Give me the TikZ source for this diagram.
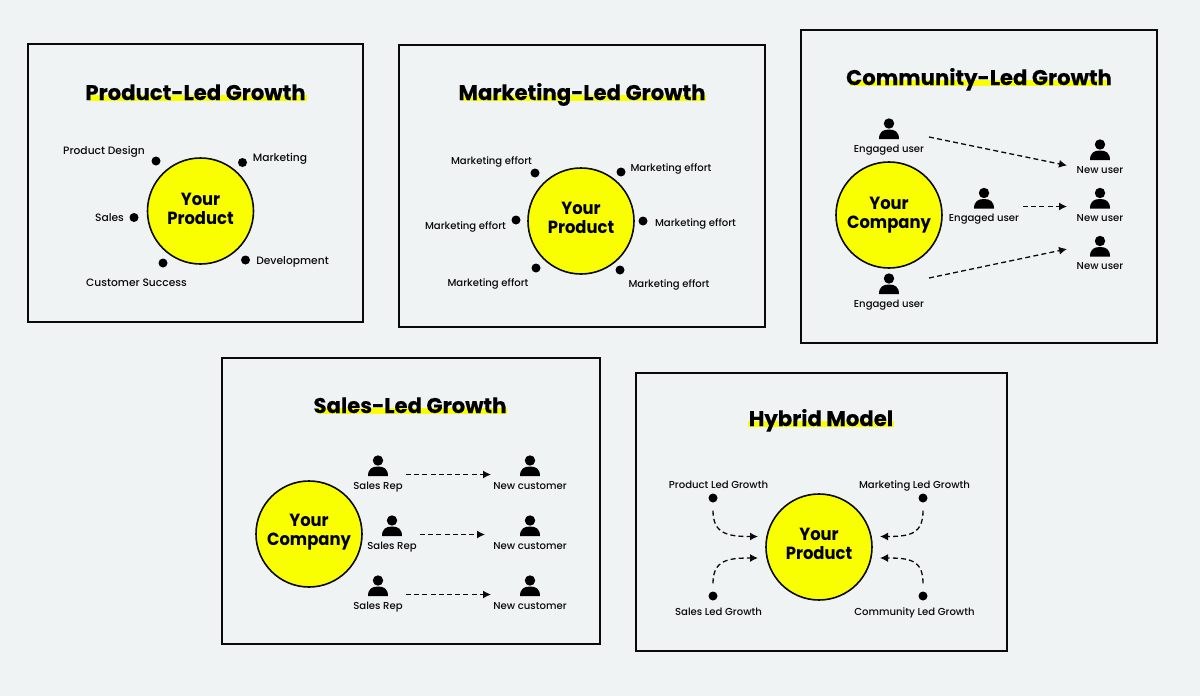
\documentclass[tikz,border=0pt]{standalone}
\usepackage{fontspec}
\setmainfont{Poppins Medium}
\newfontfamily\titlefont{Poppins}[UprightFeatures={FakeBold=0.25},BoldFeatures={FakeBold=0.25}]
\newfontfamily\hubfont{Poppins}[FakeStretch=0.93]
\usepackage{xcolor}
\usetikzlibrary{arrows.meta,positioning}
\definecolor{pagebg}{HTML}{F0F3F4}
\definecolor{hlyellow}{HTML}{F9FF00}
\definecolor{inkblack}{HTML}{0A0A0A}
\tikzset{panel/.style={draw=inkblack,line width=2.4pt,fill=pagebg},
    hlbar/.style={fill=hlyellow},
    titletext/.style={font=\titlefont\bfseries\fontsize{21.2}{24}\selectfont,text=black,inner sep=0pt,anchor=base},
    hub/.style={circle,draw=inkblack,line width=1.6pt,fill=hlyellow,minimum size=106pt,inner sep=0pt},
    hubtext/.style={inner sep=0pt,align=center,font=\hubfont\bfseries\fontsize{17.6}{18.8}\selectfont},
    dot/.style={circle,fill=black,minimum size=9pt,inner sep=0pt},
    lbl/.style={font=\fontsize{10.1}{12}\selectfont,text=inkblack,inner sep=0pt,text height=11pt,text depth=2.5pt},
    lblwide/.style={lbl,font=\fontsize{10.7}{12}\selectfont},
    usermark/.style={minimum width=20pt,minimum height=20pt,inner sep=0pt},
    flow/.style={dashed,dash pattern=on 5pt off 3.2pt,line width=1.3pt,draw=inkblack,
        -{Latex[length=8pt,width=8pt]}},
    personicon/.pic={
        \fill[black] (0,-5.5) circle (5.2);
        \fill[black] (-10,10) .. controls (-10,3) and (-6,0.5) .. (0,0.5)
            .. controls (6,0.5) and (10,3) .. (10,10) -- cycle;
    }}
\newcommand{\usernode}[4]{
    \node[usermark] (#1) at (#2,#3) {};
    \pic at (#1) {personicon};
    \node[lbl,below=2pt of #1] (#1t) {#4};
}
\newcommand{\hubnode}[5]{
    \node[hub] (#1) at (#2,#3) {};
    \node[hubtext] (#1t) at (#2,#4) {#5};
}
\begin{document}
\begin{tikzpicture}[x=1pt,y=-1pt]
    \fill[pagebg] (0,0) rectangle (1200,696);
    \foreach \xa/\ya/\xb/\yb in {28/44/363/322,399/45/765/327,801/30/1157/343,222/358/600/644,636/373/1007/651}
        \draw[panel] (\xa,\ya) rectangle (\xb,\yb);
    \foreach \xa/\xb/\yb in {90/307/100,462/706/100,850/1109/85,318/507/413,748/894/426}
        \fill[hlbar] (\xa,\yb-5.5) rectangle (\xb,\yb+1);

    % titles
    \node[titletext] (titleplg) at (195.5,100) {Product-Led Growth};
    \node[titletext] (titlemlg) at (582,100) {Marketing-Led Growth};
    \node[titletext] (titleclg) at (979,85) {Community-Led Growth};
    \node[titletext] (titleslg) at (410,413) {Sales-Led Growth};
    \node[titletext] (titlehyb) at (821,426) {Hybrid Model};

    % hubs
    \hubnode{hubplg}{200.5}{211}{208.5}{Your\\Product}
    \hubnode{hubmlg}{581}{221}{217.5}{Your\\Product}
    \hubnode{hubclg}{889}{215}{215.5}{Your\\Company}
    \hubnode{hubslg}{309}{534}{532.5}{Your\\Company}
    \hubnode{hubhyb}{819}{547}{544}{Your\\Product}

    % product led
    \foreach \n/\dx/\dy/\tx/\ty/\lab in {pd/156/161/104/150/Product Design,mk/242.5/162.5/280/157/Marketing,
        sl/134/217.5/109.5/217.5/Sales,dv/245.5/260/292.5/260/Development,cs/163/263/136.5/282/Customer Success}{
        \node[dot] (\n) at (\dx,\dy) {};
        \node[lblwide] (\n t) at (\tx,\ty) {\lab};
    }

    % marketing led
    \foreach \n/\dx/\dy/\tx/\ty in {me1/535/173/491.5/160,me2/621/172/671/167,me3/516/220/465.5/225,
        me4/643/221/695.5/222,me5/536/268/488/282,me6/620/270/669/283.5}{
        \node[dot] (\n) at (\dx,\dy) {};
        \node[lbl] (\n t) at (\tx,\ty) {Marketing effort};
    }

    % community led
    \usernode{eu1}{889}{129}{Engaged user}
    \usernode{eu2}{984}{198.5}{Engaged user}
    \usernode{eu3}{889}{284}{Engaged user}
    \usernode{nu1}{1100}{150}{New user}
    \usernode{nu2}{1100}{198.5}{New user}
    \usernode{nu3}{1100}{246.5}{New user}
    \draw[flow] ([shift={(40,8)}]eu1.center) -- ([shift={(-33,15.5)}]nu1.center);
    \draw[flow] ([shift={(39,8)}]eu2.center) -- ([shift={(-33,8)}]nu2.center);
    \draw[flow] ([shift={(40,-6)}]eu3.center) -- ([shift={(-33,2.5)}]nu3.center);

    % sales led
    \usernode{sr1}{378}{466}{Sales Rep}
    \usernode{sr2}{392}{526}{Sales Rep}
    \usernode{sr3}{378}{586}{Sales Rep}
    \usernode{nc1}{530}{466}{New customer}
    \usernode{nc2}{530}{526}{New customer}
    \usernode{nc3}{530}{586}{New customer}
    \foreach \a/\b/\s/\e in {sr1/nc1/28/39,sr2/nc2/28/45,sr3/nc3/28/39}
        \draw[flow] ([shift={(\s,8.5)}]\a.center) -- ([shift={(-\e,8.5)}]\b.center);

    % hybrid
    \foreach \n/\dx/\dy/\tx/\ty/\lab in {hpl/713/498/718.5/484/Product Led Growth,hml/923/498/914.5/484/Marketing Led Growth,
        hsl/713/596/718.5/611/Sales Led Growth,hcl/923/596/914.5/611/Community Led Growth}{
        \node[dot] (\n) at (\dx,\dy) {};
        \node[lbl] (\n t) at (\tx,\ty) {\lab};
    }
    \coordinate (inpl) at (758,536.5);
    \coordinate (inml) at (880,536.5);
    \coordinate (insl) at (758,558);
    \coordinate (incl) at (880,558);
    \draw[flow,shorten <=8pt] (hpl) .. controls +(0,36) and +(-30,0) .. (inpl);
    \draw[flow,shorten <=8pt] (hml) .. controls +(0,36) and +(30,0) .. (inml);
    \draw[flow,shorten <=8pt] (hsl) .. controls +(0,-36) and +(-30,0) .. (insl);
    \draw[flow,shorten <=8pt] (hcl) .. controls +(0,-36) and +(30,0) .. (incl);
\end{tikzpicture}
\end{document}
